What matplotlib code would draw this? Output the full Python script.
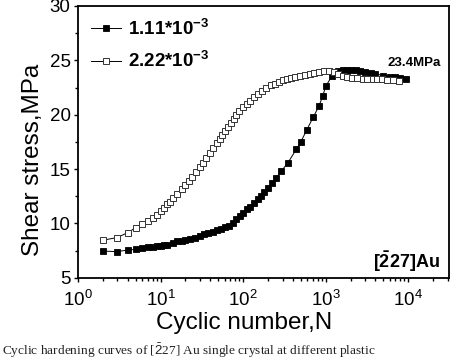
import numpy as np
import matplotlib.pyplot as plt
from matplotlib.ticker import LogLocator, FixedLocator, NullFormatter

plt.rcParams['font.family'] = ['Liberation Sans', 'DejaVu Sans']
plt.rcParams['mathtext.fontset'] = 'custom'
plt.rcParams['mathtext.rm'] = 'Liberation Sans'
plt.rcParams['mathtext.bf'] = 'Liberation Sans:bold'

# strain amplitude 1.11e-3 (filled squares)
n_low = [2, 3, 4, 5, 6, 7, 8, 9, 10, 11, 12, 14, 16, 18, 20, 23, 26, 30, 34, 38,
         43, 48, 54, 60, 67, 75, 83, 92, 100, 110, 120, 135, 150, 165, 180, 200,
         225, 250, 290, 350, 440, 500, 590, 710, 830, 920, 1000, 1200, 1400, 1600,
         1800, 2000, 2300, 2600, 3000, 3500, 4000, 5000, 6000, 7000, 8000, 9500]
tau_low = [7.45, 7.4, 7.55, 7.6, 7.75, 7.8, 7.85, 7.9, 7.95, 8.0, 8.05, 8.15, 8.35,
           8.4, 8.45, 8.6, 8.7, 8.85, 9.0, 9.1, 9.25, 9.35, 9.5, 9.65, 9.8, 10.0,
           10.4, 10.7, 11.0, 11.3, 11.55, 11.9, 12.2, 12.5, 12.9, 13.3, 13.7, 14.15,
           14.8, 15.6, 16.8, 17.5, 18.6, 19.8, 20.8, 21.7, 22.6, 23.6, 24.0, 24.1,
           24.1, 24.15, 24.1, 24.0, 23.95, 23.85, 23.75, 23.6, 23.5, 23.45, 23.4, 23.3]

# strain amplitude 2.22e-3 (open squares)
n_high = [2, 3, 4, 5, 6, 7, 8, 9, 10, 11, 12, 13, 14, 16, 18, 20, 22, 24, 27, 30,
          33, 36, 40, 43, 48, 52, 56, 61, 66, 71, 77, 83, 90, 100, 110, 120, 135,
          150, 170, 190, 215, 240, 270, 300, 340, 380, 430, 490, 560, 640, 730, 830,
          950, 1100, 1250, 1400, 1600, 1800, 2100, 2400, 2800, 3200, 3700, 4200,
          4800, 5500, 6500, 7800]
tau_high = [8.45, 8.7, 9.15, 9.6, 9.95, 10.2, 10.5, 10.8, 11.1, 11.45, 11.75, 12.0,
            12.3, 12.7, 13.15, 13.5, 13.9, 14.3, 14.75, 15.2, 15.6, 16.0, 16.5, 16.9,
            17.4, 17.8, 18.1, 18.5, 18.85, 19.2, 19.6, 19.95, 20.3, 20.7, 21.0, 21.3,
            21.6, 21.9, 22.2, 22.45, 22.7, 22.85, 23.0, 23.15, 23.25, 23.35, 23.45,
            23.55, 23.65, 23.75, 23.85, 23.95, 24.0, 24.0, 23.95, 23.7, 23.55, 23.45,
            23.4, 23.35, 23.3, 23.3, 23.3, 23.3, 23.25, 23.2, 23.15, 23.1]

fig = plt.figure(figsize=(4.74, 3.61), dpi=100)
ax = fig.add_axes([0.1646, 0.2307, 0.782, 0.7527])

ax.plot(n_low, tau_low, '-s', color='black', lw=0.7, ms=4.2, mfc='black', mec='black',
        mew=0.6, label=r'$\mathbf{1.11{*}10^{-3}}$')
ax.plot(n_high, tau_high, '-s', color='black', lw=0.7, ms=5.0, mfc='white', mec='#333333',
        mew=0.7, label=r'$\mathbf{2.22{*}10^{-3}}$')

ax.set_xscale('log')
ax.set_xlim(1, 10 ** 4.49)
ax.set_ylim(5, 30)
ax.set_yticks([5, 10, 15, 20, 25, 30])
ax.yaxis.set_minor_locator(FixedLocator([7.5, 12.5, 17.5, 22.5, 27.5]))
ax.xaxis.set_major_locator(LogLocator(base=10, numticks=10))
ax.xaxis.set_minor_locator(LogLocator(base=10, subs=np.arange(2, 10), numticks=20))
ax.xaxis.set_minor_formatter(NullFormatter())

ax.tick_params(which='both', direction='out', top=False, right=False, labelsize=13.5, width=1.0)
ax.tick_params(which='major', length=3)
ax.tick_params(which='minor', length=2)
ax.tick_params(axis='y', which='major', pad=2.3)
ax.tick_params(axis='x', which='major', pad=5.5)
for s in ax.spines.values():
    s.set_linewidth(1.3)

ax.set_xlabel('Cyclic number,N', fontsize=17.5, labelpad=2)
ax.set_ylabel('Shear stress,MPa', fontsize=17.5, labelpad=4)
ax.xaxis.label.set_x(0.449)
ax.yaxis.label.set_y(0.433)

ax.legend(loc='upper left', frameon=False, fontsize=13.5, handlelength=1.6,
          handletextpad=0.4, borderaxespad=0.0, borderpad=0.67, labelspacing=0.66)

ax.text(5600, 24.75, '23.4MPa', fontsize=9.5, fontweight='bold', va='center', ha='left')
ax.text(0.975, 0.06, r'[$\mathbf{\bar{2}}$27]Au', transform=ax.transAxes, fontsize=13,
        fontweight='bold', ha='right', va='center')

fig.text(0.004, 0.003, 'Cyclic hardening curves of [$\\bar{2}$27] Au single crystal at different plastic',
         fontsize=9.6, family='Liberation Serif', va='bottom', ha='left', color='#222222')

fig.savefig('out.png', dpi=100)
